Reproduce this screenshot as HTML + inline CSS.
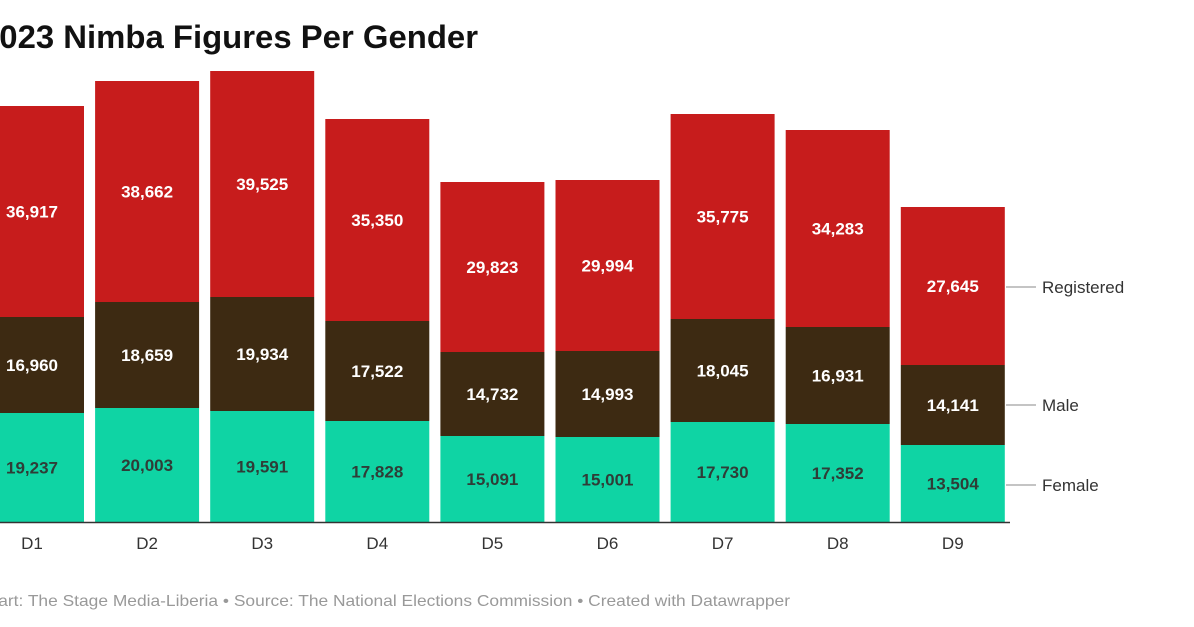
<!DOCTYPE html>
<html><head><meta charset="utf-8"><style>
html,body{margin:0;padding:0;background:#fff;width:1194px;height:627px;overflow:hidden}
svg{display:block;font-family:"Liberation Sans",Arial,sans-serif}
.v{fill:#fff;font-size:17px;font-weight:bold;text-anchor:middle}
.x{fill:#333;font-size:17px;text-anchor:middle}
.r{fill:#333;font-size:17px}
</style></head><body>
<svg width="1194" height="627" viewBox="0 0 1194 627">
<text x="-19" y="48" font-size="32" font-weight="bold" fill="#111" textLength="497" lengthAdjust="spacingAndGlyphs">2023 Nimba Figures Per Gender</text>
<g id="bars"></g>
<line x1="0" y1="522.5" x2="1010" y2="522.5" stroke="#333" stroke-width="1.5"/>
<g stroke="#888" stroke-width="1"><line x1="1006" y1="287" x2="1036" y2="287"/><line x1="1006" y1="405" x2="1036" y2="405"/><line x1="1006" y1="485" x2="1036" y2="485"/></g>
<text class="r" x="1042" y="293">Registered</text>
<text class="r" x="1042" y="411">Male</text>
<text class="r" x="1042" y="491">Female</text>
<text x="-24" y="606" font-size="16" fill="#999" textLength="814" lengthAdjust="spacingAndGlyphs">Chart: The Stage Media-Liberia • Source: The National Elections Commission  • Created with Datawrapper</text>
</svg>
<script>
var d=[[106,317,413,"36,917","16,960","19,237"],[81,302,408,"38,662","18,659","20,003"],[71,297,411,"39,525","19,934","19,591"],[119,321,421,"35,350","17,522","17,828"],[182,352,436,"29,823","14,732","15,091"],[180,351,437,"29,994","14,993","15,001"],[114,319,422,"35,775","18,045","17,730"],[130,327,424,"34,283","16,931","17,352"],[207,365,445,"27,645","14,141","13,504"]];
var g=document.getElementById("bars"),s="";
d.forEach(function(b,i){var x=-20+i*115.1,w=104,c=x+w/2;
s+='<rect x="'+x+'" y="'+b[0]+'" width="'+w+'" height="'+(b[1]-b[0])+'" fill="#c71c1c"/>';
s+='<rect x="'+x+'" y="'+b[1]+'" width="'+w+'" height="'+(b[2]-b[1])+'" fill="#3d2a12"/>';
s+='<rect x="'+x+'" y="'+b[2]+'" width="'+w+'" height="'+(522-b[2])+'" fill="#0fd4a4"/>';
s+='<text class="v" x="'+c+'" y="'+((b[0]+b[1])/2+6)+'">'+b[3]+'</text>';
s+='<text class="v" x="'+c+'" y="'+((b[1]+b[2])/2+6)+'">'+b[4]+'</text>';
s+='<text class="v" x="'+c+'" y="'+((b[2]+522)/2+6)+'" style="fill:#2f3d37">'+b[5]+'</text>';
s+='<text class="x" x="'+c+'" y="549">D'+(i+1)+'</text>';});
g.innerHTML=s;
</script>
</body></html>
